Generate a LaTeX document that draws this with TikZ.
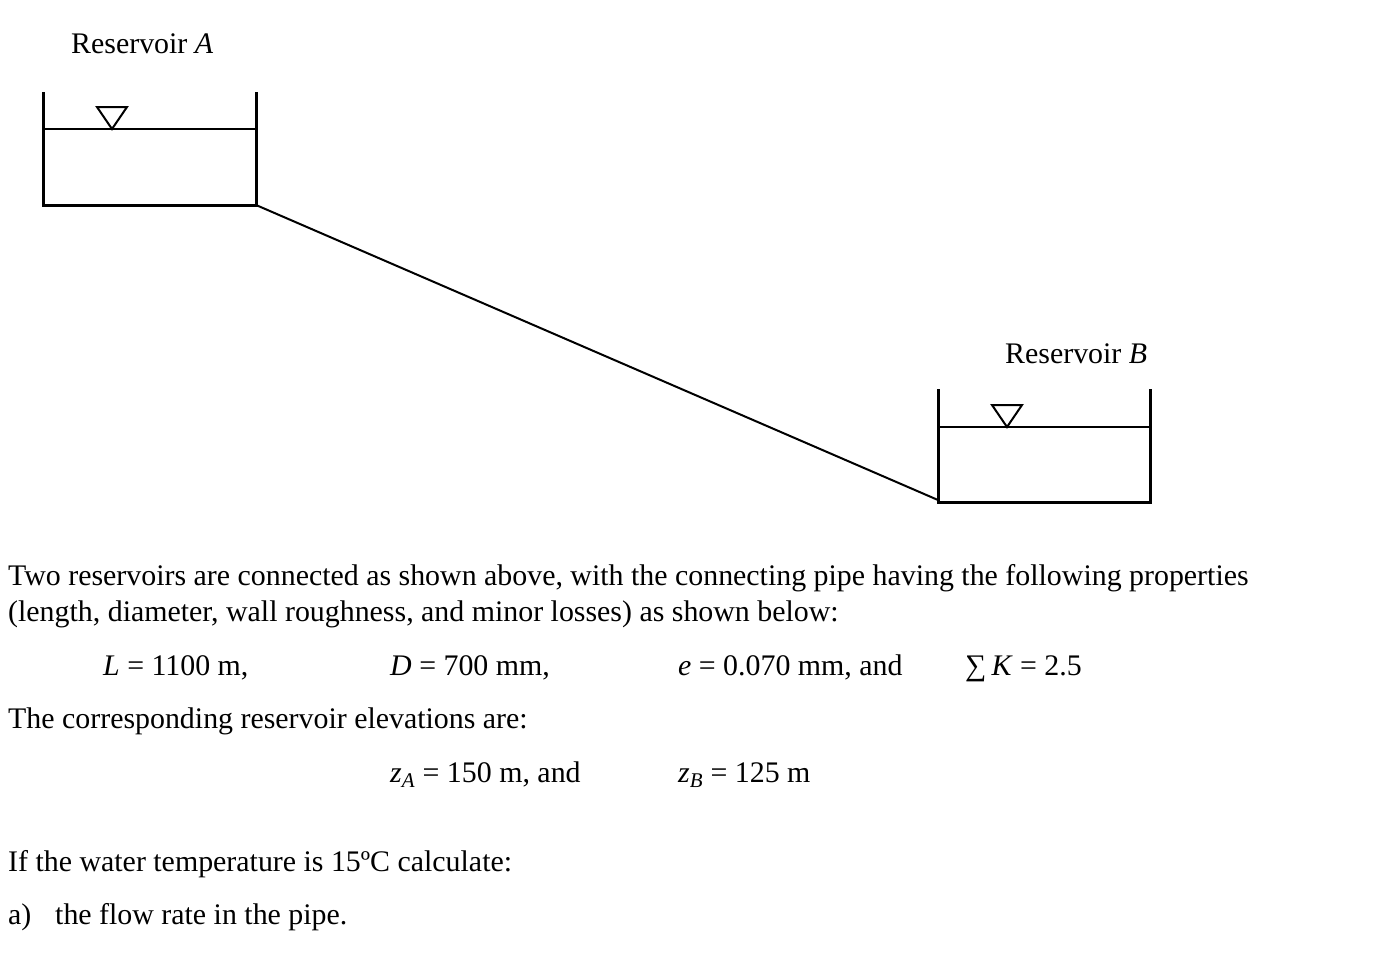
\documentclass[tikz,border=0pt]{standalone}
\usepackage{fontspec}
\setmainfont{Liberation Serif}
\begin{document}
\begin{tikzpicture}[x=1bp,y=-1bp,
  wall/.style={line width=3bp},
  thin/.style={line width=2bp},
  txt/.style={anchor=base west,inner sep=0pt,font=\fontsize{30}{36}\selectfont}]
\useasboundingbox (0,0) rectangle (1390,952);
% Reservoir A
\draw[wall] (43,92) -- (43,205) -- (256,205) -- (256,92);
\draw[thin] (43,129) -- (256,129);
\draw[thin] (112,129) -- (97,107) -- (127,107) -- cycle;
\node[txt] (la) at (71,53) {Reservoir \textit{A}};
% Reservoir B
\draw[wall] (938,389) -- (938,502) -- (1150,502) -- (1150,389);
\draw[thin] (938,427) -- (1150,427);
\draw[thin] (1007,427) -- (992,405) -- (1022,405) -- cycle;
\node[txt] (lb) at (1005,363) {Reservoir \textit{B}};
% Pipe
\coordinate (pa) at (256,205);
\coordinate (pb) at (938,500);
\draw[thin] (pa) -- (pb);
% Text
\node[txt] (t1) at (8,585) {Two reservoirs are connected as shown above, with the connecting pipe having the following properties};
\node[txt] (t2) at (8,621) {(length, diameter, wall roughness, and minor losses) as shown below:};
\node[txt] (e1) at (103,675) {\textit{L} = 1100 m,};
\node[txt] (e2) at (390,675) {\textit{D} = 700 mm,};
\node[txt] (e3) at (678,675) {\textit{e} = 0.070 mm, and};
\node[txt] (e4) at (965,675) {∑\,\textit{K} = 2.5};
\node[txt] (t3) at (8,728) {The corresponding reservoir elevations are:};
\node[txt] (z1) at (390,782) {\textit{z}\textsubscript{\textit{A}} = 150 m, and};
\node[txt] (z2) at (678,782) {\textit{z}\textsubscript{\textit{B}} = 125 m};
\node[txt] (t4) at (8,871) {If the water temperature is 15ºC calculate:};
\node[txt] (t5) at (8,924) {a)};
\node[txt] (t6) at (55,924) {the flow rate in the pipe.};
\end{tikzpicture}
\end{document}
